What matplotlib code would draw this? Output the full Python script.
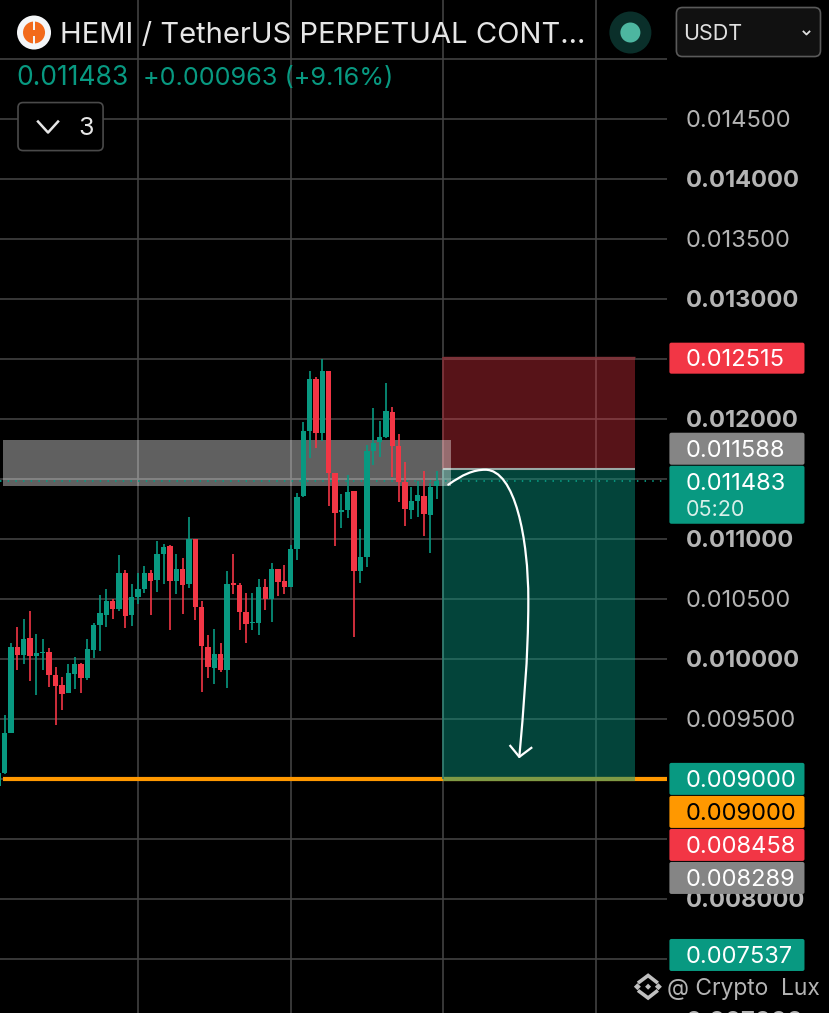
import matplotlib
matplotlib.use("Agg")
import matplotlib.pyplot as plt
from matplotlib.patches import Circle, FancyBboxPatch, PathPatch, Polygon, Rectangle
from matplotlib.path import Path
from matplotlib.transforms import Affine2D, blended_transform_factory

plt.rcParams["font.family"] = ["Inter", "DejaVu Sans"]

GREEN = "#089981"
RED = "#f23645"
ORANGE = "#ff9800"
GRAY = "#858585"
GRID = "#424242"

# candles in millionths of USDT
opens = [8945, 9050, 9389, 10106, 10034, 10175, 10028, 10050, 10061, 9867,
         9784, 9717, 9881, 9959, 9847, 10078, 10284, 10372, 10484, 10417,
         10717, 10372, 10523, 10584, 10717, 10661, 10878, 10945, 10650, 10750,
         10625, 11006, 10434, 10106, 9928, 10045, 9911, 10634, 10617, 10392,
         10300, 10300, 10606, 10500, 10750, 10650, 10603, 10917, 11361, 11900,
         12334, 11889, 12398, 11556, 11225, 11242, 11400, 10736, 10856, 11736,
         11814, 11848, 12064, 11781, 11478, 11245, 11317, 11361, 11203, 11442]
closes = [9056, 9389, 10106, 10034, 10167, 10028, 10056, 10061, 9867, 9778,
          9711, 9884, 9959, 9845, 10084, 10286, 10384, 10484, 10423, 10717,
          10361, 10520, 10584, 10717, 10656, 10881, 10939, 10653, 10750, 10620,
          11006, 10439, 10111, 9934, 10045, 9911, 10625, 10620, 10395, 10292,
          10311, 10600, 10500, 10750, 10647, 10603, 10917, 11356, 11898, 12331,
          11884, 12403, 11556, 11223, 11248, 11398, 10736, 10856, 11739, 11806,
          11853, 12067, 11775, 11478, 11253, 11322, 11367, 11214, 11439, 11489]
highs = [9056, 9534, 10139, 10273, 10334, 10403, 10209, 10173, 10098, 9939,
         9856, 9964, 10017, 9973, 10167, 10306, 10539, 10584, 10506, 10867,
         10745, 10625, 10717, 10778, 10745, 10984, 10959, 10950, 10881, 10842,
         11184, 11006, 10489, 10200, 10256, 10134, 10734, 10875, 10634, 10556,
         10556, 10667, 10667, 10800, 10756, 10784, 10956, 11384, 11973, 12403,
         12350, 12500, 12403, 11556, 11375, 11534, 11403, 11084, 11784, 12092,
         11986, 12298, 12098, 11881, 11645, 11439, 11489, 11570, 11472, 11567]
lows = [8945, 9042, 9389, 9909, 9959, 9820, 9700, 9911, 9772, 9450,
        9578, 9717, 9756, 9717, 9828, 10011, 10070, 10270, 10339, 10403,
        10261, 10278, 10461, 10556, 10370, 10561, 10625, 10245, 10542, 10375,
        10592, 10325, 9728, 9845, 9792, 9895, 9764, 10542, 10245, 10134,
        10242, 10200, 10411, 10311, 10528, 10542, 10603, 10828, 11356, 11681,
        11764, 11820, 11278, 10945, 11095, 11175, 10186, 10636, 10770, 11617,
        11686, 11845, 11520, 11311, 11111, 11172, 11184, 11028, 10889, 11334]

price_ticks = [0.015, 0.0145, 0.014, 0.0135, 0.013, 0.0125, 0.012, 0.0115, 0.011,
               0.0105, 0.010, 0.0095, 0.009, 0.0085, 0.008, 0.0075]
time_ticks = [22, 46, 70, 94]
axis_labels = ["0.014500", "0.014000", "0.013500", "0.013000", "0.012000",
               "0.011000", "0.010500", "0.010000", "0.009500", "0.008000", "0.007000"]
axis_prices = [0.0145, 0.014, 0.0135, 0.013, 0.012, 0.011, 0.0105, 0.010, 0.0095, 0.008, 0.007]
bold_labels = ["0.014000", "0.013000", "0.012000", "0.011000", "0.010000", "0.008000", "0.007000"]

last_price = 0.011483
stop = 0.012515
entry = 0.011588
target = 0.009
zone_top, zone_bottom = 0.011825, 0.011442

W, H = 829, 1013
STEP = 6.35
X0 = -1.68
PX = lambda px: (px - X0) / STEP
Y_LOW, Y_HIGH = 0.00705433, 0.015496

fig = plt.figure(figsize=((W + 0.5) / 100, (H + 0.5) / 100), dpi=100, facecolor="black")
ax = fig.add_axes([0, 0, 1, 1], facecolor="black")
ax.set_xlim(PX(0), PX(W))
ax.set_ylim(Y_LOW, Y_HIGH)
ax.axis("off")

# grid
ax.hlines(price_ticks, PX(0), PX(667), color=GRID, lw=1.2, zorder=1)
ax.vlines(time_ticks, Y_LOW, Y_HIGH, color=GRID, lw=1.2, zorder=1)

# target line and position tool
ax.hlines(target, PX(3), PX(667), color=ORANGE, lw=3, zorder=2)
ax.add_patch(Rectangle((PX(443), entry), PX(635) - PX(443), stop - entry,
                       fc=RED, alpha=0.36, ec="none", zorder=3))
ax.add_patch(Rectangle((PX(443), target), PX(635) - PX(443), entry - target,
                       fc=GREEN, alpha=0.45, ec="none", zorder=3))
ax.hlines(target, PX(443), PX(635), color="#7f9a45", lw=3, zorder=3)
ax.vlines(PX(443), target, entry, color="#2f7d70", lw=1.2, zorder=3)
ax.vlines(PX(443), entry, stop, color="#7d3138", lw=1.2, zorder=3)
ax.hlines(stop, PX(443), PX(635), color="#7d3138", lw=1, zorder=3)
ax.hlines(entry, PX(443), PX(635), color="#9aa9a6", lw=1.5, zorder=4)

# gray supply band, candles sit on top of it
ax.add_patch(Rectangle((PX(3), zone_bottom), PX(451) - PX(3), zone_top - zone_bottom,
                       fc="#ffffff", alpha=0.38, ec="none", zorder=4))
ax.hlines(last_price, PX(0), PX(667), color=GREEN, lw=1.3, ls=(0, (0.8, 3.45)), zorder=5)

# candles
xs = list(range(len(opens)))
colors = [GREEN if c >= o else RED for o, c in zip(opens, closes)]
ax.vlines(xs, [v / 1e6 for v in lows], [v / 1e6 for v in highs], color=colors, lw=1.2, zorder=6)
ax.bar(xs, [(c - o) / 1e6 for o, c in zip(opens, closes)], bottom=[o / 1e6 for o in opens],
       width=0.84, color=colors, zorder=6)

# interface layer in pixels
ui = fig.add_axes([0, 0, 1, 1], facecolor="none")
ui.set_xlim(0, W)
ui.set_ylim(H, 0)
ui.axis("off")
price_y = blended_transform_factory(ui.transData, ax.transData) + Affine2D().translate(0, -1.5)

for lab, p in zip(axis_labels, axis_prices):
    bold = lab in bold_labels
    txt = ui.text(685, p, lab, transform=price_y, color="#b4b4b4", fontsize=17, va="center",
                  fontweight="bold" if bold else "normal", zorder=2)
    if lab == "0.007000":
        txt.set_clip_on(True)

# price tags: (text, top, bottom, fill, text colour)
tags = [("0.012515", 343, 374, RED, "white"),
        ("0.011588", 433, 465, GRAY, "white"),
        ("0.009000", 763, 795, GREEN, "white"),
        ("0.009000", 796, 828, ORANGE, "black"),
        ("0.008458", 829, 861, RED, "white"),
        ("0.008289", 862, 894, GRAY, "white"),
        ("0.007537", 939, 971, GREEN, "white")]
for txt, top, bot, fill, tc in tags:
    ui.add_patch(FancyBboxPatch((669, top), 135, bot - top, boxstyle="round,pad=0,rounding_size=2",
                                fc=fill, ec="none", zorder=3))
    ui.text(685, (top + bot) / 2 + 1.5, txt, color=tc, fontsize=17, va="center", zorder=4)
ui.add_patch(FancyBboxPatch((669, 466), 135, 58, boxstyle="round,pad=0,rounding_size=2",
                            fc=GREEN, ec="none", zorder=3))
ui.text(685, 483.5, "0.011483", color="white", fontsize=17, va="center", zorder=4)
ui.text(685, 510, "05:20", color="#d8efe9", fontsize=15.5, va="center", zorder=4)

# hand drawn arrow
arrow = Path([(448, 485), (462, 475), (473, 470), (485, 470),
              (515, 470), (528, 540), (528, 600),
              (528, 660), (523, 710), (519, 757)],
             [Path.MOVETO] + [Path.CURVE4] * 9)
ui.add_patch(PathPatch(arrow, fc="none", ec="white", lw=1.6, capstyle="round", zorder=2))
ui.plot([510, 519, 531], [746, 757, 748], color="white", lw=1.6, zorder=2)

# header
ui.add_patch(Circle((34, 33), 17, fc="#f4f6f8", ec="none"))
ui.add_patch(Circle((34, 33), 11, fc="#f26a1b", ec="none"))
ui.add_patch(Rectangle((32.8, 21), 2.4, 9, fc="#f4f6f8", ec="none"))
ui.add_patch(Rectangle((32.8, 36), 2.4, 9, fc="#f4f6f8", ec="none"))
ui.text(60, 35, "HEMI / TetherUS PERPETUAL CONT...", color="#e6e6e6", fontsize=21, va="center")
ui.add_patch(Circle((630, 33), 21, fc="#0a2f2a", ec="none"))
ui.add_patch(Circle((630, 33), 10, fc="#4db6a0", ec="none"))
ui.add_patch(FancyBboxPatch((676, 8), 144, 49, boxstyle="round,pad=0,rounding_size=6",
                            fc="#111111", ec="#5a5a5a", lw=1.2))
ui.text(683, 34, "USDT", color="#e0e0e0", fontsize=15.5, va="center")
ui.plot([803, 806, 809], [32, 35, 32], color="#e0e0e0", lw=1.3)
ui.text(16, 78, "0.011483", color=GREEN, fontsize=19, va="center")
ui.text(143, 78, "+0.000963 (+9.16%)", color=GREEN, fontsize=18.2, va="center")
ui.add_patch(FancyBboxPatch((18, 103), 85, 48, boxstyle="round,pad=0,rounding_size=5",
                            fc="black", ec="#4a4a4a", lw=1.2))
ui.plot([38, 48, 58], [122, 133, 122], color="#e6e6e6", lw=1.8)
ui.text(78, 128, "3", color="#e6e6e6", fontsize=18, va="center")

# watermark
ICON = "#c0c0c0"
ui.plot([639, 647.7, 656], [982, 975.5, 982], color=ICON, lw=2.6, solid_joinstyle="miter")
ui.plot([639, 647.7, 656], [991.5, 998, 991.5], color=ICON, lw=2.6, solid_joinstyle="miter")
for cx, r in [(637, 3.5), (647.7, 3), (658, 3.5)]:
    ui.add_patch(Polygon([(cx, 986.7 - r), (cx + r, 986.7), (cx, 986.7 + r), (cx - r, 986.7)],
                         fc=ICON, ec="none"))
ui.text(667, 989, "@ Crypto  Lux", color="#b4b4b4", fontsize=16.4, va="center")

fig.savefig("out.png", dpi=100, facecolor="black")
